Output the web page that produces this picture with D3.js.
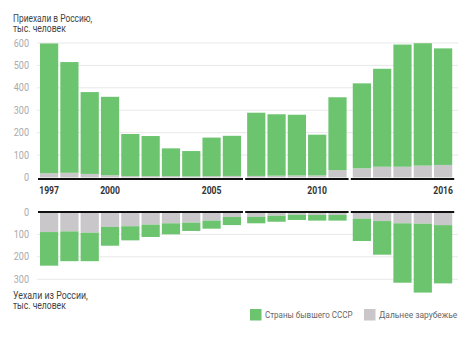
<!DOCTYPE html>
<html>
<head>
<meta charset="utf-8">
<script src="https://cdn.jsdelivr.net/npm/d3@7"></script>
<style>
  body { margin: 0; background: #fff; }
  svg { display: block; font-family: Roboto, "DejaVu Sans", sans-serif; }
</style>
</head>
<body>
<svg id="chart"></svg>
<script>
const width = 474;
const height = 338;

// Migration data, thousands of people
const years = d3.range(1997, 2017);
const groups = [[1997, 2006], [2007, 2011], [2012, 2016]];
const inCIS = [579, 494, 365, 350, 188, 179, 124, 113, 172, 179, 282, 274, 271, 182, 325, 379, 437, 545, 546, 520];
const inFar = [19, 21, 16, 10, 6, 6, 6, 5, 6, 7, 7, 8, 9, 9, 33, 41, 48, 48, 53, 56];
const outCIS = [150, 133, 127, 84, 63, 55, 49, 37, 36, 36, 29, 27, 23, 25, 25, 100, 150, 265, 307, 260];
const outFar = [85, 82, 88, 62, 59, 52, 46, 43, 34, 18, 17, 12, 8, 9, 9, 25, 36, 46, 48, 54];
const topTicks = [0, 100, 200, 300, 400, 500, 600];
const bottomTicks = [0, 100, 200, 300];
const yearLabels = [1997, 2000, 2005, 2010, 2016];
const legendItems = ["Страны бывшего СССР", "Дальнее зарубежье"];

const green = "#6cc46f";
const grey = "#c9c7c9";

// Narrow the text a little when it runs wider than `ratio` em per glyph
const squeeze = (sel, size, ratio) =>
  sel.each(function () {
    const n = this.textContent.length;
    const w = this.getComputedTextLength();
    if (w > n * size * ratio) {
      d3.select(this)
        .attr("textLength", n * size * ratio)
        .attr("lengthAdjust", "spacingAndGlyphs");
    }
  });

const svg = d3.select("#chart").attr("width", width).attr("height", height);

// Years are placed on slots; each new group adds a small extra gap
const groupGap = 0.2;
const groupOf = (yr) => groups.findIndex((g) => yr >= g[0] && yr <= g[1]);
const slot = (yr) => years.indexOf(yr) + groupOf(yr) * groupGap;

const x = d3.scaleLinear().domain([0, 19 + 2 * groupGap]).range([40, 434]);
const barW = x(1) - x(0) - 2.1;

const k = (177.5 - 43) / 600;
const yTop = d3.scaleLinear().domain([0, 600]).range([177.5, 177.5 - 600 * k]);
const yBot = d3.scaleLinear().domain([0, 300]).range([212, 212 + 300 * k]);

const data = years.map((yr, i) => ({
  year: yr,
  inCIS: inCIS[i],
  inFar: inFar[i],
  outCIS: outCIS[i],
  outFar: outFar[i],
}));

// Gridlines
svg.append("g")
  .selectAll("line")
  .data(topTicks.slice(1))
  .join("line")
  .attr("x1", 37).attr("x2", 458)
  .attr("y1", (d) => yTop(d)).attr("y2", (d) => yTop(d))
  .attr("stroke", "#e8e8e8");

svg.append("g")
  .selectAll("line")
  .data(bottomTicks.slice(1))
  .join("line")
  .attr("x1", 37).attr("x2", 458)
  .attr("y1", (d) => yBot(d)).attr("y2", (d) => yBot(d))
  .attr("stroke", "#e8e8e8");

// Tick labels
[[topTicks, yTop], [bottomTicks, yBot]].forEach(([ticks, y]) => {
  svg.append("g")
    .selectAll("text")
    .data(ticks)
    .join("text")
    .attr("x", 29)
    .attr("y", (d) => y(d))
    .attr("dy", "0.35em")
    .attr("text-anchor", "end")
    .attr("font-size", 10)
    .attr("fill", "#aaa")
    .text((d) => d)
    .call(squeeze, 10, 0.51);
});

// Arrivals: far abroad at the base, former USSR on top
const arrivals = svg.append("g");
arrivals.selectAll(".far")
  .data(data)
  .join("rect")
  .attr("class", "far")
  .attr("x", (d) => x(slot(d.year)))
  .attr("width", barW)
  .attr("y", (d) => yTop(d.inFar))
  .attr("height", (d) => yTop(0) - yTop(d.inFar))
  .attr("fill", grey);
arrivals.selectAll(".cis")
  .data(data)
  .join("rect")
  .attr("class", "cis")
  .attr("x", (d) => x(slot(d.year)))
  .attr("width", barW)
  .attr("y", (d) => yTop(d.inFar + d.inCIS))
  .attr("height", (d) => yTop(d.inFar) - yTop(d.inFar + d.inCIS))
  .attr("fill", green);

// Departures hang below their own axis
const departures = svg.append("g");
departures.selectAll(".far")
  .data(data)
  .join("rect")
  .attr("class", "far")
  .attr("x", (d) => x(slot(d.year)))
  .attr("width", barW)
  .attr("y", yBot(0) + 1)
  .attr("height", (d) => yBot(d.outFar) - yBot(0))
  .attr("fill", grey);
departures.selectAll(".cis")
  .data(data)
  .join("rect")
  .attr("class", "cis")
  .attr("x", (d) => x(slot(d.year)))
  .attr("width", barW)
  .attr("y", (d) => yBot(d.outFar) + 1)
  .attr("height", (d) => yBot(d.outFar + d.outCIS) - yBot(d.outFar))
  .attr("fill", green);

// Black baseline segments, one per group
[yTop(0) + 1.5, yBot(0)].forEach((yy) => {
  svg.append("g")
    .selectAll("line")
    .data(groups)
    .join("line")
    .attr("x1", (g) => x(slot(g[0])) - 2)
    .attr("x2", (g) => x(slot(g[1])) + barW + 2)
    .attr("y1", yy).attr("y2", yy)
    .attr("stroke", "#111")
    .attr("stroke-width", 2);
});

// Year labels
svg.append("g")
  .selectAll("text")
  .data(yearLabels)
  .join("text")
  .attr("x", (d) => x(slot(d)) + barW / 2)
  .attr("y", 193.5)
  .attr("text-anchor", "middle")
  .attr("font-size", 10.5)
  .attr("font-weight", "bold")
  .attr("fill", "#333")
  .text((d) => d)
  .call(squeeze, 10.5, 0.47);

// Titles
const titles = [
  { lines: ["Приехали в Россию,", "тыс. человек"], y: 21.5 },
  { lines: ["Уехали из России,", "тыс. человек"], y: 298.5 },
];
titles.forEach((t) => {
  svg.append("g")
    .selectAll("text")
    .data(t.lines)
    .join("text")
    .attr("x", 13)
    .attr("y", (d, i) => t.y + i * 10.5)
    .attr("font-size", 10)
    .attr("fill", "#444")
    .text((d) => d)
    .call(squeeze, 10, 0.44);
});

// Legend
const legend = svg.append("g").attr("transform", "translate(250,309)");
const legendX = [0, 114];
legendItems.forEach((label, i) => {
  legend.append("rect")
    .attr("x", legendX[i])
    .attr("width", 11.5)
    .attr("height", 11.5)
    .attr("fill", i ? grey : green);
  legend.append("text")
    .attr("x", legendX[i] + 15)
    .attr("y", 6)
    .attr("dy", "0.35em")
    .attr("font-size", 9.5)
    .attr("fill", "#666")
    .text(label)
    .call(squeeze, 9.5, 0.485);
});
</script>
</body>
</html>
